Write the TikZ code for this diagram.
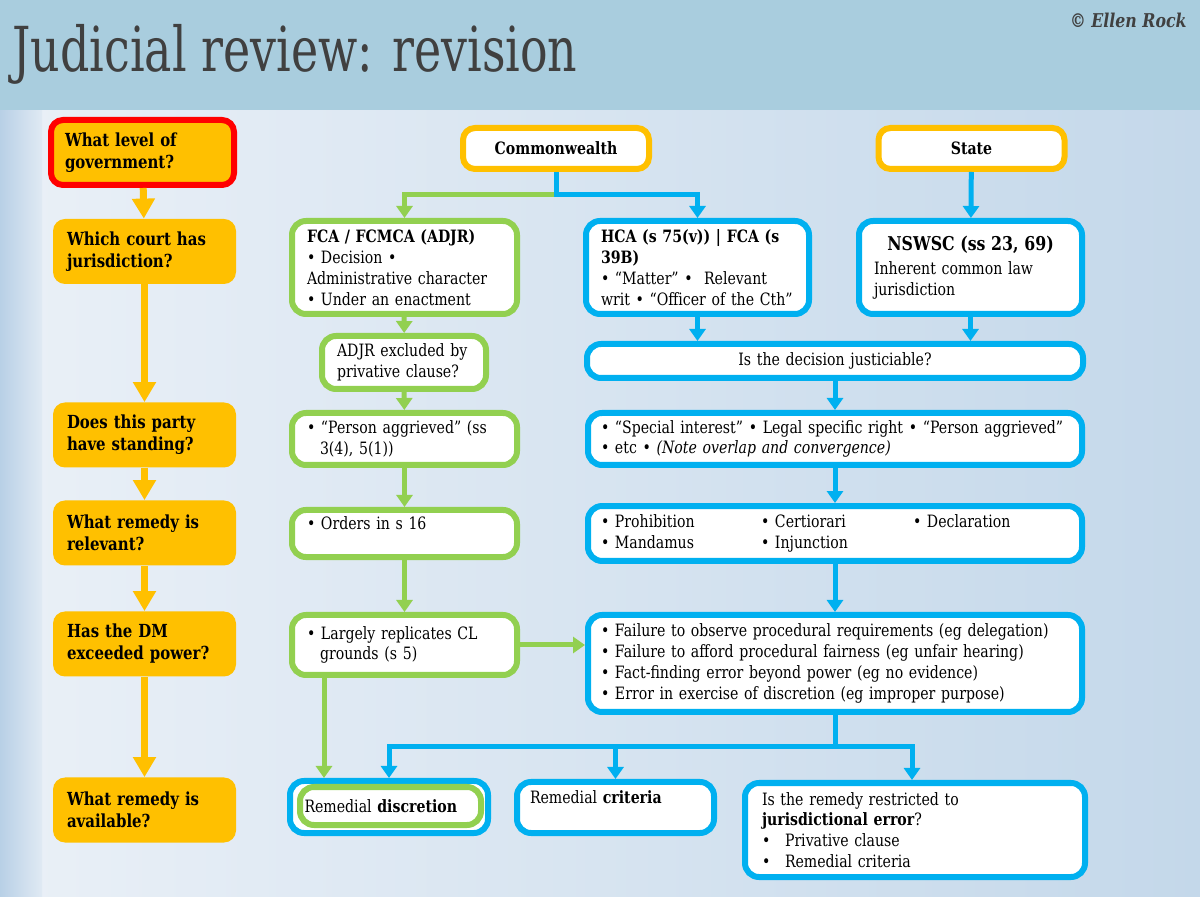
\documentclass[tikz,border=0pt]{standalone}
\usepackage{fontspec}
\setmainfont{DejaVu Serif}[FakeStretch=0.83]
\newfontfamily\jrtitlefont{DejaVu Serif}[FakeStretch=0.74]
\usetikzlibrary{arrows.meta,positioning,calc}

\definecolor{jorange}{RGB}{255,192,0}
\definecolor{jgreen}{RGB}{146,208,80}
\definecolor{jblue}{RGB}{0,176,240}
\definecolor{jred}{RGB}{255,0,0}
\definecolor{bandblue}{RGB}{169,205,222}
\definecolor{titlegray}{RGB}{64,64,64}
\definecolor{bgleft}{RGB}{234,240,247}
\definecolor{bgright}{RGB}{196,216,234}
\definecolor{stripdark}{RGB}{184,208,230}

\newcommand{\jrbody}{\fontsize{8.5}{10.4}\selectfont}
\newcommand{\jrq}{\fontsize{9}{11}\selectfont\bfseries}
\newcommand{\jrbul}{\makebox[11.5pt][l]{•}}

\begin{document}
\begin{tikzpicture}[x=0.5pt,y=-0.5pt,
    qbox/.style={fill=jorange, rounded corners=6pt, text width=77.5pt, inner xsep=7pt,
        minimum height=32.5pt, align=left, font=\jrq},
    cbox/.style={draw=jorange, line width=3pt, fill=white, rounded corners=6pt,
        minimum width=93pt, minimum height=20.5pt, font=\jrbody\bfseries},
    gbox/.style={draw=jgreen, line width=3pt, fill=white, rounded corners=7pt,
        align=left, inner xsep=7.5pt, font=\jrbody},
    bbox/.style={gbox, draw=jblue},
    oarrow/.style={jorange, line width=3.5pt, -{Triangle[width=11pt,length=10pt]}},
    barrow/.style={jblue, line width=2.5pt, -{Triangle[width=8pt,length=6pt]}},
    garrow/.style={barrow, jgreen},
    bline/.style={jblue, line width=2.5pt}]

    % background
    \useasboundingbox (0,0) rectangle (1200,897);
    \shade[left color=bgleft, right color=bgright] (0,110) rectangle (1200,897);
    \shade[left color=stripdark, right color=bgleft!80!stripdark] (0,110) rectangle (42,897);
    \fill[bandblue] (0,0) rectangle (1200,110);

    % heading
    \node[anchor=base west, inner sep=0pt, text=titlegray, font=\jrtitlefont\fontsize{31}{34}\selectfont] (title) at (12,72) {Judicial review: revision};
    \node[anchor=east, inner sep=0pt, text=titlegray, font=\fontsize{9.5}{10}\selectfont\bfseries\itshape] (credit) at (1187,20) {© Ellen Rock};

    % questions
    \node[qbox, draw=jred, line width=3pt] (qlevel) at (142.5,152.5) {What level of\\government?};
    \node[qbox] (qcourt) at (144.5,251.5) {Which court has\\jurisdiction?};
    \node[qbox] (qstand) at (144.5,435) {Does this party\\have standing?};
    \node[qbox] (qrel) at (144.5,533) {What remedy is\\relevant?};
    \node[qbox] (qpower) at (144.5,644) {Has the DM\\exceeded power?};
    \node[qbox] (qavail) at (144.5,810) {What remedy is\\available?};

    \draw[oarrow] (qlevel) -- (qcourt);
    \draw[oarrow] (qcourt) -- (qstand);
    \draw[oarrow] (qstand) -- (qrel);
    \draw[oarrow] (qrel) -- (qpower);
    \draw[oarrow] (qpower) -- (qavail);

    % level of government
    \node[cbox] (cw) at (556,148.5) {Commonwealth};
    \node[cbox] (state) at (971.5,148.5) {State};

    % jurisdiction
    \node[gbox, text width=97.5pt, minimum height=46.5pt] (fca) at (404.5,267.5)
        {\textbf{FCA / FCMCA (ADJR)}\\• Decision •\\Administrative character\\• Under an enactment};
    \node[bbox, text width=96.5pt, minimum height=46.5pt] (hca) at (697.5,267.5)
        {\textbf{HCA (s 75(v)) | FCA (s}\\\textbf{39B)}\\\mbox{• “Matter” •\ \ Relevant}\\\mbox{writ\ • “Officer of the Cth”}};
    \node[bbox, text width=96.5pt, minimum height=46.5pt] (nswsc) at (970.5,267.5)
        {\makebox[\linewidth]{\fontsize{9.5}{11}\selectfont\bfseries NSWSC (ss 23, 69)}\\[2pt]Inherent common law\\jurisdiction};

    \coordinate (cwfork) at ($(cw.south)+(0,23)$);
    \draw[garrow] (cwfork) -| (fca.north);
    \draw[barrow] (cw.south) -- (cwfork) -| (hca.north);
    \draw[barrow] (state) -- (nswsc);

    % privative clause / justiciability
    \node[gbox, text width=67pt, minimum height=26.5pt] (adjr) at (404,362.5) {ADJR excluded by\\privative clause?};
    \node[bbox, text width=233pt, minimum height=17pt, align=center] (just) at (835,361) {Is the decision justiciable?};

    \draw[garrow] (fca) -- (adjr);
    \draw[barrow] (hca.south) -- (hca.south |- just.north);
    \draw[barrow] (nswsc.south) -- (nswsc.south |- just.north);

    % standing
    \node[gbox, text width=97.5pt, minimum height=26pt] (gstand) at (404.5,439)
        {• “Person aggrieved” (ss\\\hspace*{6.5pt}3(4), 5(1))};
    \node[bbox, text width=234pt, inner xsep=6.5pt, minimum height=26pt] (bstand) at (835,439)
        {• “Special interest” • Legal specific right • “Person aggrieved”\\• etc • \textit{(Note overlap and convergence)}};

    \draw[garrow] (adjr) -- (gstand);
    \draw[barrow] (just) -- (bstand);

    % relevant remedy
    \node[gbox, text width=97.5pt, minimum height=23.5pt] (grem) at (404.5,533.5) {• Orders in s 16\\\mbox{}};
    \node[bbox, text width=234pt, inner xsep=6.5pt, minimum height=23.5pt] (brem) at (835,533.5)
        {\begin{tabular}{@{}p{80pt}@{}p{76pt}@{}l@{}}
        • Prohibition & • Certiorari & • Declaration\\
        • Mandamus & • Injunction &
        \end{tabular}};

    \draw[garrow] (gstand) -- (grem);
    \draw[barrow] (bstand) -- (brem);

    % grounds
    \node[gbox, text width=97.5pt, minimum height=30pt] (ggrounds) at (404.5,645)
        {• Largely replicates CL\\\hspace*{6.5pt}grounds (s 5)};
    \node[bbox, text width=234pt, inner xsep=6.5pt, minimum height=48.5pt] (bgrounds) at (835,663.5)
        {• Failure to observe procedural requirements (eg delegation)\\
         • Failure to afford procedural fairness (eg unfair hearing)\\
         • Fact-finding error beyond power (eg no evidence)\\
         • Error in exercise of discretion (eg improper purpose)};

    \draw[garrow] (grem) -- (ggrounds);
    \draw[barrow] (brem) -- (bgrounds);
    \draw[garrow] (ggrounds.east) -- (ggrounds.east -| bgrounds.west);

    % available remedy
    \node[bbox, minimum width=99pt, minimum height=26pt] (disc) at (389,807) {};
    \node[gbox, text width=86pt, inner xsep=2.25pt, minimum height=19pt] (discin) at (390.5,806) {Remedial \textbf{discretion}};
    \node[bbox, text width=85.5pt, inner xsep=6.5pt, minimum height=25.5pt] (crit) at (615.5,807.5) {Remedial \textbf{criteria}\\\mbox{}};
    \node[bbox, text width=153pt, inner xsep=8.5pt, minimum height=47pt] (juris) at (915,830)
        {Is the remedy restricted to\\\textbf{jurisdictional error}?\\\jrbul Privative clause\\\jrbul Remedial criteria};

    \coordinate (bfork) at ($(bgrounds.south)+(0,32)$);
    \draw[bline] (bgrounds.south) -- (bfork);
    \draw[barrow] (bfork) -| (disc.north);
    \draw[barrow] (bfork) -| (crit.north);
    \draw[barrow] (bfork) -| ([xshift=-1.5pt]juris.north);
    \draw[garrow] ([xshift=17.5pt]ggrounds.south west) -- ([xshift=17.5pt]ggrounds.south west |- disc.north);
\end{tikzpicture}
\end{document}
